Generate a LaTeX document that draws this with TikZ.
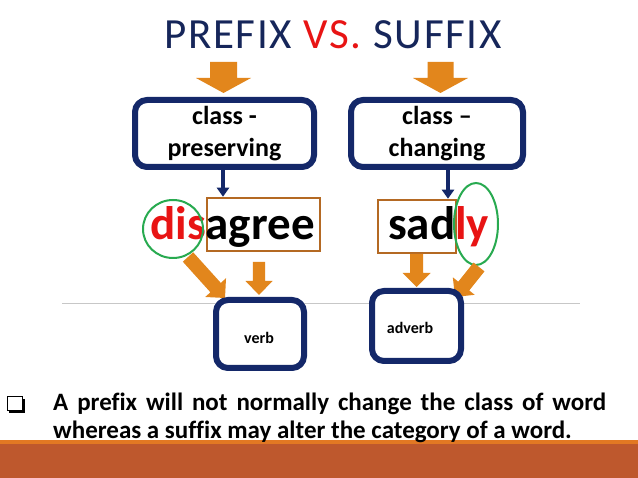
\documentclass[tikz,border=0pt]{standalone}
\usepackage{fontspec}
\setmainfont[Ligatures=CommonOff]{Carlito}
\newfontfamily\titlefont[LetterSpace=4,Ligatures=CommonOff]{Carlito}
\usetikzlibrary{calc,arrows.meta,shapes.geometric}
\definecolor{navy}{RGB}{20,40,105}
\definecolor{titleblue}{RGB}{22,38,90}
\definecolor{arrorange}{RGB}{226,134,28}
\definecolor{rectbrown}{RGB}{180,105,35}
\definecolor{ellgreen}{RGB}{40,170,80}
\definecolor{wordred}{RGB}{232,20,20}
\definecolor{barbrown}{RGB}{190,88,45}
\definecolor{barstripe}{RGB}{226,120,35}
\newcommand\blockarrow[5]{%
  \coordinate (bh) at ($(#2)!#5!(#1)$);
  \fill[arrorange] ($(#1)!#3!90:(#2)$) -- ($(bh)!#3!90:(#2)$) -- ($(bh)!#4!90:(#2)$) -- (#2)
    -- ($(bh)!#4!-90:(#2)$) -- ($(bh)!#3!-90:(#2)$) -- ($(#1)!#3!-90:(#2)$) -- cycle;}
\tikzset{
  navybox/.style={draw=navy, line width=6pt, rounded corners=12pt, fill=white, inner sep=0pt},
  orrect/.style={draw=rectbrown, line width=2.5pt, inner sep=0pt},
  greenell/.style={ellipse, draw=ellgreen, line width=2pt, inner sep=0pt},
  navyarr/.style={draw=navy, line width=3.5pt, -{Triangle[width=12pt,length=9pt]}},
  boxtext/.style={font=\fontsize{26}{32}\selectfont\bfseries, align=center},
  bigword/.style={font=\fontsize{47}{50}\selectfont\bfseries, anchor=base west, inner sep=0pt},
  smalltext/.style={font=\fontsize{16}{19}\selectfont\bfseries, inner sep=0pt},
  bodytext/.style={font=\fontsize{25}{29}\selectfont\bfseries, anchor=base west, inner sep=0pt}
}
\begin{document}
\begin{tikzpicture}[x=1pt,y=-1pt]
\useasboundingbox (0,0) rectangle (638,478);
\fill[white] (0,0) rectangle (638,478);
% title
\node[font=\fontsize{43}{46}\titlefont, anchor=base, inner sep=0pt] (title) at (333,49)
  {\color{titleblue}PREFIX \color{wordred}VS. \color{titleblue}SUFFIX};
% top block arrows
\coordinate (t1s) at (223.5,62); \coordinate (t1e) at (223.5,93);
\coordinate (t2s) at (440.5,62); \coordinate (t2e) at (440.5,93);
\blockarrow{t1s}{t1e}{13.5pt}{27.5pt}{15pt}
\blockarrow{t2s}{t2e}{13pt}{27.5pt}{15pt}
% class boxes
\node[navybox, minimum width=179pt, minimum height=67pt, boxtext] (b1) at (224.5,133.5) {class -\\preserving};
\node[navybox, minimum width=172pt, minimum height=67pt, boxtext] (b2) at (437,133.5) {class –\\changing};
% separator line
\draw[black!22, line width=0.8pt] (62,303) coordinate (sl) -- (580,303) coordinate (sr);
% word rectangles
\node[orrect, minimum width=113pt, minimum height=53pt] (ag) at (263.5,224.5) {};
\node[orrect, minimum width=78pt, minimum height=53pt] (sd) at (417,226.5) {};
% navy arrows
\coordinate (n1) at (223,170);
\coordinate (n2) at (448,170);
\draw[navyarr] (n1) -- (n1 |- ag.north);
\draw[navyarr] (n2) -- (n2 |- sd.north);
% words
\node[bigword] (w1) at (150,240) {\textcolor{wordred}{dis}agree};
\node[bigword] (w2) at (388,240) {sad\textcolor{wordred}{ly}};
% ellipses
\node[greenell, minimum width=60pt, minimum height=58pt] (e1) at (173,229) {};
\node[greenell, minimum width=44pt, minimum height=82pt] (e2) at (476,224) {};
% lower block arrows
\coordinate (d1s) at (188,257); \coordinate (d1e) at (225,298);
\coordinate (d2s) at (259,262); \coordinate (d2e) at (259,295);
\coordinate (d3s) at (416.5,254); \coordinate (d3e) at (416.5,287);
\coordinate (d4s) at (479,267); \coordinate (d4e) at (455,297);
\blockarrow{d1s}{d1e}{7pt}{14pt}{14pt}
\blockarrow{d2s}{d2e}{6.2pt}{13.5pt}{14pt}
\blockarrow{d3s}{d3e}{6.5pt}{14pt}{14pt}
\blockarrow{d4s}{d4e}{7pt}{14pt}{14pt}
% result boxes
\node[navybox, minimum width=88pt, minimum height=68pt] (v) at (260,334) {};
\node[navybox, minimum width=89pt, minimum height=70pt] (av) at (416.5,326) {};
\node[smalltext] (vt) at (259,338) {verb};
\node[smalltext] (avt) at (410,328) {adverb};
% bottom bar
\fill[barbrown] (0,444) rectangle (638,478);
\fill[barstripe] (0,440) rectangle (638,444);
% checkbox
\fill[black] (9,399) rectangle (24.5,413.5);
\filldraw[fill=white, draw=black, line width=1pt] (7,397) rectangle (22,411);
% body text
\node[bodytext] (l1) at (53,411) {\makebox[553pt][s]{A prefix will not normally change the class of word}};
\node[bodytext] (l2) at (53,439) {whereas a suffix may alter the category of a word.};
\end{tikzpicture}
\end{document}
